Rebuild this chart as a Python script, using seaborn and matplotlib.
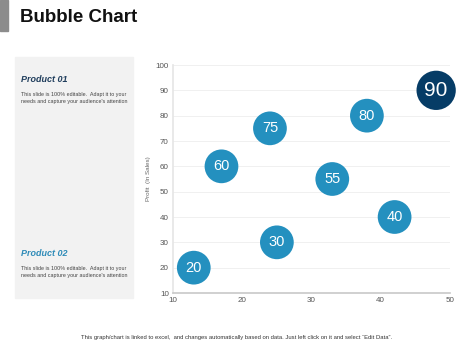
import matplotlib
matplotlib.use("Agg")
import matplotlib.pyplot as plt
import pandas as pd
import seaborn as sns
from matplotlib.patches import Rectangle

# chart values
x_vals = [13, 17, 24, 25, 33, 38, 42, 48]
y_vals = [20, 60, 75, 30, 55, 80, 40, 90]
labels = ["20", "60", "75", "30", "55", "80", "40", "90"]
groups = ["base", "base", "base", "base", "base", "base", "base", "top"]

x_ticks = [10, 20, 30, 40, 50]
y_ticks = [10, 20, 30, 40, 50, 60, 70, 80, 90, 100]

desc = "This slide is 100% editable.  Adapt it to your\nneeds and capture your audience's attention"
footer = ('This graph/chart is linked to excel,  and changes automatically based on data. '
          'Just left click on it and select \u201cEdit Data\u201d.')

df = pd.DataFrame({"x": x_vals, "y": y_vals, "label": labels, "group": groups})

sns.set_theme(style="white")
plt.rcParams["font.family"] = ["Liberation Sans", "DejaVu Sans"]

W, H = 474, 355
fig = plt.figure(figsize=(W / 100, H / 100), dpi=100)

# top-left gray tab + title
fig.patches.append(Rectangle((0, 1 - 31 / H), 8 / W, 31 / H, transform=fig.transFigure,
                             color="#8c8c8c", zorder=0))
fig.text(20 / W, 1 - 17 / H, "Bubble Chart", fontsize=13.5, fontweight="bold",
         color="#111111", va="center", ha="left")

# left info panel
fig.patches.append(Rectangle((15 / W, 1 - 298 / H), 118 / W, 241 / H, transform=fig.transFigure,
                             color="#f2f2f2", zorder=0))
fig.text(21 / W, 1 - 80 / H, "Product 01", fontsize=6.5, fontweight="bold", fontstyle="italic",
         color="#1f3d5c", va="center")
fig.text(21 / W, 1 - 98 / H, desc, fontsize=3.9, color="#444444", va="center", linespacing=1.3)
fig.text(21 / W, 1 - 254 / H, "Product 02", fontsize=6.5, fontweight="bold", fontstyle="italic",
         color="#2e8bb8", va="center")
fig.text(21 / W, 1 - 272 / H, desc, fontsize=3.9, color="#444444", va="center", linespacing=1.3)

# bubble chart
ax = fig.add_axes([173 / W, 1 - 293 / H, (450 - 173) / W, (293 - 65) / H])
sns.scatterplot(data=df, x="x", y="y", hue="group", size="group",
                palette={"base": "#2490bf", "top": "#063c66"},
                sizes={"base": 590, "top": 800}, linewidth=0, legend=False, ax=ax, zorder=3)
for coll in ax.collections:
    coll.set_clip_on(False)
for _, r in df.iterrows():
    ax.text(r["x"], r["y"], r["label"], color="white", ha="center", va="center",
            fontsize=15 if r["group"] == "top" else 10.5, zorder=4)

ax.set_xlim(10, 50)
ax.set_ylim(10, 100)
ax.set_xticks(x_ticks)
ax.set_yticks(y_ticks)
ax.tick_params(axis="both", labelsize=5.8, colors="#555555", length=0, pad=3)
ax.set_xlabel("")
ax.set_ylabel("Profit  (In Sales)", fontsize=4.5, color="#666666", labelpad=3)
ax.yaxis.grid(True, color="#eeeeee", linewidth=0.6)
ax.xaxis.grid(False)
for side in ["top", "right"]:
    ax.spines[side].set_visible(False)
ax.spines["left"].set_color("#e6e6e6")
ax.spines["bottom"].set_color("#c8c8c8")
ax.spines["bottom"].set_linewidth(1.2)
ax.set_facecolor("white")

fig.text(237 / W, 1 - 338 / H, footer, fontsize=4.2, color="#333333", ha="center", va="center")

fig.savefig("out.png", dpi=100)
